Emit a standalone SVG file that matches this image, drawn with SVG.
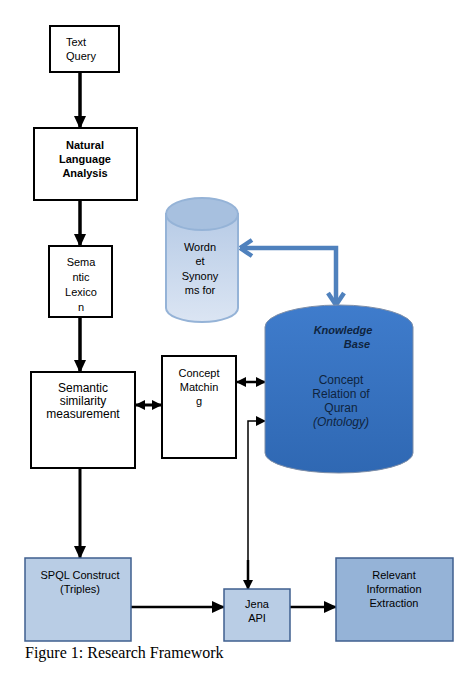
<svg xmlns="http://www.w3.org/2000/svg" width="474" height="679" viewBox="0 0 474 679">
<defs>
<style>
.box{fill:#fff;stroke:#000;stroke-width:2}
.lb{fill:#b9cde5;stroke:#3f5f8f;stroke-width:1.5}
.db{fill:#95b3d7;stroke:#3f5f8f;stroke-width:1.5}
.t{font-family:"Liberation Sans",Arial,sans-serif;font-size:11px;fill:#000;text-anchor:middle}
.b{font-weight:bold}
.kb{fill:#0f243e}
.ln{stroke:#000;fill:none}
.cap{font-family:"Liberation Serif","Times New Roman",serif;font-size:16px;fill:#000}
</style>
<marker id="ah" markerWidth="10" markerHeight="10" refX="9" refY="5" orient="auto-start-reverse" markerUnits="userSpaceOnUse" viewBox="0 0 10 10">
<path d="M0,0 L10,5 L0,10 Z" fill="#000"/>
</marker>
<marker id="ahs" markerWidth="13" markerHeight="12" refX="12" refY="6" orient="auto-start-reverse" markerUnits="userSpaceOnUse" viewBox="0 0 13 12">
<path d="M0,0 L13,6 L0,12 Z" fill="#000"/>
</marker>
<marker id="bh" markerWidth="18" markerHeight="18" refX="3" refY="9" orient="auto" markerUnits="userSpaceOnUse" viewBox="0 0 18 18">
<path d="M14,1 L3,9 L14,17" fill="none" stroke="#4f81bd" stroke-width="4.5"/>
</marker>
<linearGradient id="wg" x1="0" y1="0" x2="0" y2="1">
<stop offset="0" stop-color="#b7cbe6"/>
<stop offset="1" stop-color="#dbe5f3"/>
</linearGradient>
<linearGradient id="kg" x1="0" y1="0" x2="0" y2="1">
<stop offset="0" stop-color="#3f7ccc"/>
<stop offset="1" stop-color="#2f68b3"/>
</linearGradient>
</defs>
<rect width="474" height="679" fill="#fff"/>

<g id="connectors">
<line class="ln" x1="80" y1="72" x2="80" y2="128" stroke-width="3.5" marker-end="url(#ahs)"/>
<line class="ln" x1="80" y1="200" x2="80" y2="246" stroke-width="3.5" marker-end="url(#ahs)"/>
<line class="ln" x1="80" y1="317" x2="80" y2="372" stroke-width="3.5" marker-end="url(#ahs)"/>
<line class="ln" x1="80" y1="468" x2="80" y2="558" stroke-width="3" marker-end="url(#ahs)"/>
<line class="ln" x1="136" y1="405" x2="161" y2="405" stroke-width="3" marker-start="url(#ah)" marker-end="url(#ah)"/>
<line class="ln" x1="237" y1="382" x2="265" y2="382" stroke-width="2.5" marker-start="url(#ah)" marker-end="url(#ah)"/>
<polyline class="ln" points="248,589 248,421 265,421" stroke-width="1.5" marker-end="url(#ah)"/>
<line class="ln" x1="248" y1="560" x2="248" y2="589" stroke-width="2.5" marker-end="url(#ah)"/>
<line class="ln" x1="131" y1="607" x2="224" y2="607" stroke-width="2.5" marker-end="url(#ahs)"/>
<line class="ln" x1="290" y1="607" x2="336" y2="607" stroke-width="2.5" marker-end="url(#ahs)"/>
<polyline points="240,248 336,248 336,304" fill="none" stroke="#4f81bd" stroke-width="4.5" stroke-linejoin="miter"/>
<path d="M240,248 l12,-8 M240,248 l12,8" stroke="#4f81bd" stroke-width="4.5" fill="none"/>
<path d="M336,305 l-8,-12 M336,305 l8,-12" stroke="#4f81bd" stroke-width="4.5" fill="none"/>
</g>

<g id="text-query">
<rect class="box" x="50" y="26" width="69" height="46"/>
<text class="t" x="66" y="46" style="text-anchor:start">Text</text>
<text class="t" x="66" y="60" style="text-anchor:start">Query</text>
</g>

<g id="nla">
<rect class="box" x="34" y="128" width="103" height="72"/>
<text class="t b" x="85" y="149">Natural</text>
<text class="t b" x="85" y="163">Language</text>
<text class="t b" x="85" y="177">Analysis</text>
</g>

<g id="semantic-lexicon">
<rect class="box" x="49" y="246" width="63" height="71"/>
<text class="t" x="81" y="266">Sema</text>
<text class="t" x="81" y="281">ntic</text>
<text class="t" x="81" y="296">Lexico</text>
<text class="t" x="81" y="311">n</text>
</g>

<g id="semantic-similarity">
<rect class="box" x="31" y="372" width="104" height="96"/>
<text class="t" x="83" y="392" style="font-size:12px">Semantic</text>
<text class="t" x="83" y="405" style="font-size:12px">similarity</text>
<text class="t" x="83" y="418" style="font-size:12px">measurement</text>
</g>

<g id="concept-matching">
<rect class="box" x="162" y="356" width="74" height="102"/>
<text class="t" x="199" y="377">Concept</text>
<text class="t" x="199" y="391">Matchin</text>
<text class="t" x="199" y="405">g</text>
</g>

<g id="wordnet">
<path d="M166,214 L166,308 A36,14 0 0 0 238,308 L238,214 Z" fill="url(#wg)" stroke="#95b3d7" stroke-width="2"/>
<ellipse cx="202" cy="214" rx="36" ry="16" fill="#a7c0df" stroke="#95b3d7" stroke-width="2"/>
<text class="t" x="200" y="251">Wordn</text>
<text class="t" x="200" y="265">et</text>
<text class="t" x="200" y="280">Synony</text>
<text class="t" x="200" y="294">ms for</text>
</g>

<g id="knowledge-base">
<path d="M265,327 L265,453 A74,20 0 0 0 413,453 L413,327 A74,22 0 0 0 265,327 Z" fill="url(#kg)" stroke="#7f8fa8" stroke-width="1"/>
<text class="t b kb" x="343" y="334" style="font-style:italic">Knowledge</text>
<text class="t b kb" x="357" y="348" style="font-style:italic">Base</text>
<text class="t kb" x="341" y="384" style="font-size:12px">Concept</text>
<text class="t kb" x="341" y="398" style="font-size:12px">Relation of</text>
<text class="t kb" x="341" y="412" style="font-size:12px">Quran</text>
<text class="t kb" x="341" y="426" style="font-size:12px;font-style:italic">(Ontology)</text>
</g>

<g id="spql">
<rect class="lb" x="25" y="558" width="106" height="83"/>
<text class="t" x="80" y="579">SPQL Construct</text>
<text class="t" x="80" y="593">(Triples)</text>
</g>

<g id="jena">
<rect class="lb" x="224" y="589" width="66" height="52"/>
<text class="t" x="257" y="608">Jena</text>
<text class="t" x="257" y="622">API</text>
</g>

<g id="relevant">
<rect class="db" x="336" y="558" width="117" height="83"/>
<text class="t" x="394" y="579">Relevant</text>
<text class="t" x="394" y="593">Information</text>
<text class="t" x="394" y="607">Extraction</text>
</g>

<text class="cap" x="25" y="658">Figure 1: Research Framework</text>
</svg>
